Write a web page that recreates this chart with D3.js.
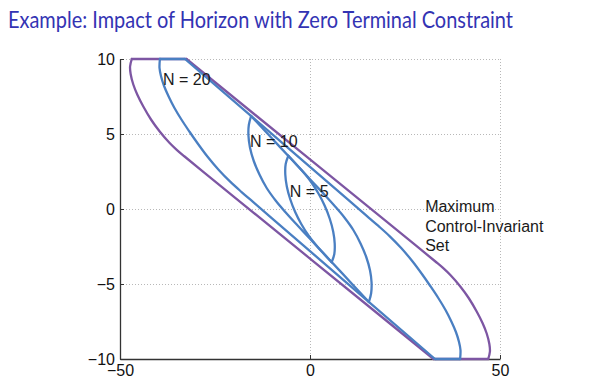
<!DOCTYPE html>
<html>
<head>
<meta charset="utf-8">
<script src="https://cdn.jsdelivr.net/npm/d3@7"></script>
<style>
  html, body { margin: 0; padding: 0; background: #ffffff; }
  svg { display: block; }
</style>
</head>
<body>
<svg id="chart" width="600" height="390"></svg>
<script>
// ---------------- data ----------------
const titleText = "Example: Impact of Horizon with Zero Terminal Constraint";
const xTicks = [-50, 0, 50];
const yTicks = [-10, -5, 0, 5, 10];

// Maximum control-invariant set: boundary pieces [x1, x2]
const maxSetArcs = [
  [[-46.9, 10], [-32.5, 10]],
  [[-32.5, 10], [0, 3.305], [20, -0.815], [28, -2.46], [33, -3.50], [35, -3.93], [37, -4.42], [39.5, -5.15], [41.8, -5.95], [43.9, -6.85], [45.4, -7.6], [46.5, -8.3], [47.2, -9.0], [47.35, -9.5], [46.9, -10]],
  [[46.9, -10], [32.5, -10]],
  [[32.5, -10], [0, -3.305], [-20, 0.815], [-28, 2.46], [-33, 3.50], [-35, 3.93], [-37, 4.42], [-39.5, 5.15], [-41.8, 5.95], [-43.9, 6.85], [-45.4, 7.6], [-46.5, 8.3], [-47.2, 9.0], [-47.35, 9.5], [-46.9, 10]]
];

// N = 20 set
const n20Arcs = [
  [[-39.5, 10], [-32.9, 10]],
  [[-32.9, 10], [0, 2.81], [10, 0.62], [15, -0.47], [18, -1.13], [21, -1.82], [24, -2.6], [27, -3.5], [29.5, -4.35], [31.7, -5.15], [33.8, -5.95], [35.7, -6.75], [37.2, -7.5], [38.4, -8.2], [39.2, -8.85], [39.6, -9.4], [39.5, -10]],
  [[39.5, -10], [32.9, -10]],
  [[32.9, -10], [0, -2.81], [-10, -0.62], [-15, 0.47], [-18, 1.13], [-21, 1.82], [-24, 2.6], [-27, 3.5], [-29.5, 4.35], [-31.7, 5.15], [-33.8, 5.95], [-35.7, 6.75], [-37.2, 7.5], [-38.4, 8.2], [-39.2, 8.85], [-39.6, 9.4], [-39.5, 10]]
];

// N = 10 set
const n10Arcs = [
  [[-15.5, 6.2], [-8, 4.16], [0, 1.98], [4, 0.9], [6.5, 0.2], [9, -0.55], [11.4, -1.4], [13.3, -2.3], [14.8, -3.2], [15.8, -4.1], [16.2, -4.9], [16.1, -5.6], [15.5, -6.2]],
  [[15.5, -6.2], [8, -4.16], [0, -1.98], [-4, -0.9], [-6.5, -0.2], [-9, 0.55], [-11.4, 1.4], [-13.3, 2.3], [-14.8, 3.2], [-15.8, 4.1], [-16.2, 4.9], [-16.1, 5.6], [-15.5, 6.2]]
];

// N = 5 set
const n5Arcs = [
  [[-5.7, 3.55], [-3.8, 3.03], [-2, 2.53], [0.3, 1.8], [2.3, 1.0], [3.9, 0.2], [5.2, -0.65], [6.1, -1.5], [6.5, -2.3], [6.4, -3.0], [5.7, -3.55]],
  [[5.7, -3.55], [3.8, -3.03], [2, -2.53], [-0.3, -1.8], [-2.3, -1.0], [-3.9, -0.2], [-5.2, 0.65], [-6.1, 1.5], [-6.5, 2.3], [-6.4, 3.0], [-5.7, 3.55]]
];

const setNames = ["N = 20", "N = 10", "N = 5"];
const maxSetName = ["Maximum", "Control-Invariant", "Set"];

// ---------------- drawing ----------------
const svg = d3.select("#chart");
const W = 600, H = 390;
const plot = { left: 120, right: 500, top: 59, bottom: 359 };

svg.append("rect").attr("width", W).attr("height", H).attr("fill", "#ffffff");

const x = d3.scaleLinear().domain([-50, 50]).range([plot.left, plot.right]);
const y = d3.scaleLinear().domain([-10, 10]).range([plot.bottom, plot.top]);

const FONT = "'Liberation Sans', Arial, Helvetica, sans-serif";

// title
svg.append("text")
  .attr("x", 8).attr("y", 28)
  .attr("fill", "#3333b3")
  .attr("font-family", "Lato, 'Open Sans', sans-serif")
  .attr("font-size", 23)
  .attr("textLength", 505)
  .attr("lengthAdjust", "spacingAndGlyphs")
  .text(titleText);

// grid
const grid = svg.append("g").attr("stroke", "#b8b8b8").attr("stroke-width", 1).attr("stroke-dasharray", "1,2");
xTicks.filter(v => v !== -50).forEach(v => {
  grid.append("line")
    .attr("x1", Math.round(x(v)) + 0.5).attr("x2", Math.round(x(v)) + 0.5)
    .attr("y1", plot.top).attr("y2", plot.bottom);
});
yTicks.filter(v => v !== -10).forEach(v => {
  grid.append("line")
    .attr("y1", Math.round(y(v)) + 0.5).attr("y2", Math.round(y(v)) + 0.5)
    .attr("x1", plot.left).attr("x2", plot.right);
});

// axes
const xAxis = d3.axisBottom(x).tickValues(xTicks).tickSizeInner(-4).tickSizeOuter(0).tickPadding(6);
const yAxis = d3.axisLeft(y).tickValues(yTicks).tickSizeInner(-4).tickSizeOuter(0).tickPadding(5);

const gx = svg.append("g").attr("transform", `translate(0,${plot.bottom})`).call(xAxis);
const gy = svg.append("g").attr("transform", `translate(${plot.left},0)`).call(yAxis);
[gx, gy].forEach(g => {
  g.select(".domain").attr("stroke", "#333").attr("stroke-width", 1.3);
  g.selectAll(".tick line").attr("stroke", "#333").attr("stroke-width", 1);
  g.selectAll(".tick text").attr("fill", "#111").attr("font-family", FONT).attr("font-size", 16);
});

// sets
const lineGen = d3.line()
  .x(d => x(d[0]))
  .y(d => y(d[1]))
  .curve(d3.curveCatmullRom.alpha(0.5));

function drawSet(arcs, color) {
  const g = svg.append("g");
  arcs.forEach(arc => {
    g.append("path")
      .attr("d", lineGen(arc))
      .attr("fill", "none")
      .attr("stroke", color)
      .attr("stroke-width", 2.3)
      .attr("stroke-linecap", "round")
      .attr("stroke-linejoin", "round");
  });
}

const PURPLE = "#7d56a3";
const BLUE = "#4a7fc2";
drawSet(maxSetArcs, PURPLE);
drawSet(n20Arcs, BLUE);
drawSet(n10Arcs, BLUE);
drawSet(n5Arcs, BLUE);

// labels
const labelAnchors = [[-38.7, 8.3], [-15.8, 4.15], [-5.3, 0.8]];
setNames.forEach((name, i) => {
  svg.append("text")
    .attr("x", x(labelAnchors[i][0])).attr("y", y(labelAnchors[i][1]))
    .attr("font-family", FONT).attr("font-size", 16).attr("fill", "#1a1a1a")
    .text(name);
});
maxSetName.forEach((line, i) => {
  svg.append("text")
    .attr("x", x(30.3)).attr("y", y(-0.2) + i * 19.5)
    .attr("font-family", FONT).attr("font-size", 16).attr("fill", "#1a1a1a")
    .text(line);
});
</script>
</body>
</html>
